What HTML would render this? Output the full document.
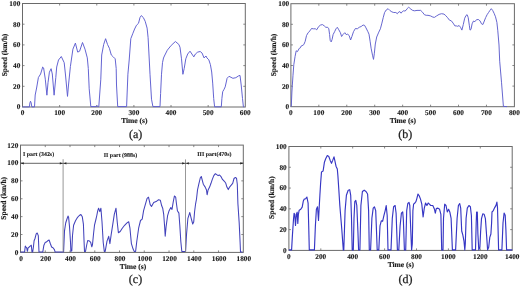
<!DOCTYPE html>
<html><head><meta charset="utf-8"><style>
html,body{margin:0;padding:0;background:#fff;}
svg{display:block;text-rendering:geometricPrecision;}
.tl{font-family:"Liberation Serif",serif;font-weight:bold;font-size:7.3px;fill:#1a1a1a;stroke:#1a1a1a;stroke-width:0.12px;}
.al{font-family:"Liberation Serif",serif;font-weight:bold;font-size:7.5px;fill:#1a1a1a;stroke:#1a1a1a;stroke-width:0.15px;}
.cap{font-family:"Liberation Serif",serif;font-size:12px;fill:#222;stroke:#222;stroke-width:0.25px;}
.an{font-family:"Liberation Serif",serif;font-weight:bold;font-size:5.9px;fill:#1a1a1a;stroke:#1a1a1a;stroke-width:0.1px;}
</style></head><body>
<svg width="520" height="286" viewBox="0 0 520 286">
<rect x="22.5" y="3.5" width="222.8" height="103.5" fill="none" stroke="#6a6a6a" stroke-width="1"/>
<text x="22.5" y="115.2" class="tl" text-anchor="middle">0</text>
<path d="M59.63 107v-2.0M59.63 3.5v2.0" stroke="#6a6a6a" stroke-width="0.8"/>
<text x="59.63" y="115.2" class="tl" text-anchor="middle">100</text>
<path d="M96.77 107v-2.0M96.77 3.5v2.0" stroke="#6a6a6a" stroke-width="0.8"/>
<text x="96.77" y="115.2" class="tl" text-anchor="middle">200</text>
<path d="M133.9 107v-2.0M133.9 3.5v2.0" stroke="#6a6a6a" stroke-width="0.8"/>
<text x="133.9" y="115.2" class="tl" text-anchor="middle">300</text>
<path d="M171.03 107v-2.0M171.03 3.5v2.0" stroke="#6a6a6a" stroke-width="0.8"/>
<text x="171.03" y="115.2" class="tl" text-anchor="middle">400</text>
<path d="M208.17 107v-2.0M208.17 3.5v2.0" stroke="#6a6a6a" stroke-width="0.8"/>
<text x="208.17" y="115.2" class="tl" text-anchor="middle">500</text>
<text x="245.3" y="115.2" class="tl" text-anchor="middle">600</text>
<text x="20.3" y="109.4" class="tl" text-anchor="end">0</text>
<path d="M22.5 86.3h2.0M245.3 86.3h-2.0" stroke="#6a6a6a" stroke-width="0.8"/>
<text x="20.3" y="88.7" class="tl" text-anchor="end">20</text>
<path d="M22.5 65.6h2.0M245.3 65.6h-2.0" stroke="#6a6a6a" stroke-width="0.8"/>
<text x="20.3" y="68" class="tl" text-anchor="end">40</text>
<path d="M22.5 44.9h2.0M245.3 44.9h-2.0" stroke="#6a6a6a" stroke-width="0.8"/>
<text x="20.3" y="47.3" class="tl" text-anchor="end">60</text>
<path d="M22.5 24.2h2.0M245.3 24.2h-2.0" stroke="#6a6a6a" stroke-width="0.8"/>
<text x="20.3" y="26.6" class="tl" text-anchor="end">80</text>
<text x="20.3" y="5.9" class="tl" text-anchor="end">100</text>
<rect x="290.9" y="3.7" width="223.5" height="103" fill="none" stroke="#6a6a6a" stroke-width="1"/>
<text x="290.9" y="115.3" class="tl" text-anchor="middle">0</text>
<path d="M318.84 106.7v-2.0M318.84 3.7v2.0" stroke="#6a6a6a" stroke-width="0.8"/>
<text x="318.84" y="115.3" class="tl" text-anchor="middle">100</text>
<path d="M346.77 106.7v-2.0M346.77 3.7v2.0" stroke="#6a6a6a" stroke-width="0.8"/>
<text x="346.77" y="115.3" class="tl" text-anchor="middle">200</text>
<path d="M374.71 106.7v-2.0M374.71 3.7v2.0" stroke="#6a6a6a" stroke-width="0.8"/>
<text x="374.71" y="115.3" class="tl" text-anchor="middle">300</text>
<path d="M402.65 106.7v-2.0M402.65 3.7v2.0" stroke="#6a6a6a" stroke-width="0.8"/>
<text x="402.65" y="115.3" class="tl" text-anchor="middle">400</text>
<path d="M430.59 106.7v-2.0M430.59 3.7v2.0" stroke="#6a6a6a" stroke-width="0.8"/>
<text x="430.59" y="115.3" class="tl" text-anchor="middle">500</text>
<path d="M458.52 106.7v-2.0M458.52 3.7v2.0" stroke="#6a6a6a" stroke-width="0.8"/>
<text x="458.52" y="115.3" class="tl" text-anchor="middle">600</text>
<path d="M486.46 106.7v-2.0M486.46 3.7v2.0" stroke="#6a6a6a" stroke-width="0.8"/>
<text x="486.46" y="115.3" class="tl" text-anchor="middle">700</text>
<text x="514.4" y="115.3" class="tl" text-anchor="middle">800</text>
<text x="289.2" y="109.1" class="tl" text-anchor="end">0</text>
<path d="M290.9 86.1h2.0M514.4 86.1h-2.0" stroke="#6a6a6a" stroke-width="0.8"/>
<text x="289.2" y="88.5" class="tl" text-anchor="end">20</text>
<path d="M290.9 65.5h2.0M514.4 65.5h-2.0" stroke="#6a6a6a" stroke-width="0.8"/>
<text x="289.2" y="67.9" class="tl" text-anchor="end">40</text>
<path d="M290.9 44.9h2.0M514.4 44.9h-2.0" stroke="#6a6a6a" stroke-width="0.8"/>
<text x="289.2" y="47.3" class="tl" text-anchor="end">60</text>
<path d="M290.9 24.3h2.0M514.4 24.3h-2.0" stroke="#6a6a6a" stroke-width="0.8"/>
<text x="289.2" y="26.7" class="tl" text-anchor="end">80</text>
<text x="289.2" y="6.1" class="tl" text-anchor="end">100</text>
<rect x="20.5" y="145.1" width="222.8" height="107.3" fill="none" stroke="#6a6a6a" stroke-width="1"/>
<text x="21" y="260.6" class="tl" text-anchor="middle">0</text>
<path d="M45.26 252.4v-2.0M45.26 145.1v2.0" stroke="#6a6a6a" stroke-width="0.8"/>
<text x="45.76" y="260.6" class="tl" text-anchor="middle">200</text>
<path d="M70.01 252.4v-2.0M70.01 145.1v2.0" stroke="#6a6a6a" stroke-width="0.8"/>
<text x="70.51" y="260.6" class="tl" text-anchor="middle">400</text>
<path d="M94.77 252.4v-2.0M94.77 145.1v2.0" stroke="#6a6a6a" stroke-width="0.8"/>
<text x="95.27" y="260.6" class="tl" text-anchor="middle">600</text>
<path d="M119.52 252.4v-2.0M119.52 145.1v2.0" stroke="#6a6a6a" stroke-width="0.8"/>
<text x="120.02" y="260.6" class="tl" text-anchor="middle">800</text>
<path d="M144.28 252.4v-2.0M144.28 145.1v2.0" stroke="#6a6a6a" stroke-width="0.8"/>
<text x="144.78" y="260.6" class="tl" text-anchor="middle">1000</text>
<path d="M169.03 252.4v-2.0M169.03 145.1v2.0" stroke="#6a6a6a" stroke-width="0.8"/>
<text x="169.53" y="260.6" class="tl" text-anchor="middle">1200</text>
<path d="M193.79 252.4v-2.0M193.79 145.1v2.0" stroke="#6a6a6a" stroke-width="0.8"/>
<text x="194.29" y="260.6" class="tl" text-anchor="middle">1400</text>
<path d="M218.54 252.4v-2.0M218.54 145.1v2.0" stroke="#6a6a6a" stroke-width="0.8"/>
<text x="219.04" y="260.6" class="tl" text-anchor="middle">1600</text>
<text x="243.8" y="260.6" class="tl" text-anchor="middle">1800</text>
<text x="18.3" y="254.8" class="tl" text-anchor="end">0</text>
<path d="M20.5 234.52h2.0M243.3 234.52h-2.0" stroke="#6a6a6a" stroke-width="0.8"/>
<text x="18.3" y="236.92" class="tl" text-anchor="end">20</text>
<path d="M20.5 216.63h2.0M243.3 216.63h-2.0" stroke="#6a6a6a" stroke-width="0.8"/>
<text x="18.3" y="219.03" class="tl" text-anchor="end">40</text>
<path d="M20.5 198.75h2.0M243.3 198.75h-2.0" stroke="#6a6a6a" stroke-width="0.8"/>
<text x="18.3" y="201.15" class="tl" text-anchor="end">60</text>
<path d="M20.5 180.87h2.0M243.3 180.87h-2.0" stroke="#6a6a6a" stroke-width="0.8"/>
<text x="18.3" y="183.27" class="tl" text-anchor="end">80</text>
<path d="M20.5 162.98h2.0M243.3 162.98h-2.0" stroke="#6a6a6a" stroke-width="0.8"/>
<text x="18.3" y="165.38" class="tl" text-anchor="end">100</text>
<text x="18.3" y="147.5" class="tl" text-anchor="end">120</text>
<rect x="288.9" y="146.5" width="223.3" height="103.9" fill="none" stroke="#6a6a6a" stroke-width="1"/>
<text x="288.9" y="258.5" class="tl" text-anchor="middle">0</text>
<path d="M320.8 250.4v-2.0M320.8 146.5v2.0" stroke="#6a6a6a" stroke-width="0.8"/>
<text x="320.8" y="258.5" class="tl" text-anchor="middle">200</text>
<path d="M352.7 250.4v-2.0M352.7 146.5v2.0" stroke="#6a6a6a" stroke-width="0.8"/>
<text x="352.7" y="258.5" class="tl" text-anchor="middle">400</text>
<path d="M384.6 250.4v-2.0M384.6 146.5v2.0" stroke="#6a6a6a" stroke-width="0.8"/>
<text x="384.6" y="258.5" class="tl" text-anchor="middle">600</text>
<path d="M416.5 250.4v-2.0M416.5 146.5v2.0" stroke="#6a6a6a" stroke-width="0.8"/>
<text x="416.5" y="258.5" class="tl" text-anchor="middle">800</text>
<path d="M448.4 250.4v-2.0M448.4 146.5v2.0" stroke="#6a6a6a" stroke-width="0.8"/>
<text x="448.4" y="258.5" class="tl" text-anchor="middle">1000</text>
<path d="M480.3 250.4v-2.0M480.3 146.5v2.0" stroke="#6a6a6a" stroke-width="0.8"/>
<text x="480.3" y="258.5" class="tl" text-anchor="middle">1200</text>
<text x="512.2" y="258.5" class="tl" text-anchor="middle">1400</text>
<text x="286.7" y="252.8" class="tl" text-anchor="end">0</text>
<path d="M288.9 229.62h2.0M512.2 229.62h-2.0" stroke="#6a6a6a" stroke-width="0.8"/>
<text x="286.7" y="232.02" class="tl" text-anchor="end">20</text>
<path d="M288.9 208.84h2.0M512.2 208.84h-2.0" stroke="#6a6a6a" stroke-width="0.8"/>
<text x="286.7" y="211.24" class="tl" text-anchor="end">40</text>
<path d="M288.9 188.06h2.0M512.2 188.06h-2.0" stroke="#6a6a6a" stroke-width="0.8"/>
<text x="286.7" y="190.46" class="tl" text-anchor="end">60</text>
<path d="M288.9 167.28h2.0M512.2 167.28h-2.0" stroke="#6a6a6a" stroke-width="0.8"/>
<text x="286.7" y="169.68" class="tl" text-anchor="end">80</text>
<text x="286.7" y="148.9" class="tl" text-anchor="end">100</text>
<text x="134.3" y="122.6" class="al" text-anchor="middle">Time (s)</text>
<text transform="translate(7.4 55) rotate(-90)" class="al" text-anchor="middle">Speed (km/h)</text>
<text x="135.6" y="137.5" class="cap" text-anchor="middle">(a)</text>
<text x="402.8" y="122.6" class="al" text-anchor="middle">Time (s)</text>
<text transform="translate(276.4 55) rotate(-90)" class="al" text-anchor="middle">Speed (km/h)</text>
<text x="405.2" y="137.7" class="cap" text-anchor="middle">(b)</text>
<text x="133" y="268.5" class="al" text-anchor="middle">Time (s)</text>
<text transform="translate(5.9 198.3) rotate(-90)" class="al" text-anchor="middle">Speed (km/h)</text>
<text x="135.5" y="283.4" class="cap" text-anchor="middle">(c)</text>
<text x="400.8" y="267.3" class="al" text-anchor="middle">Time (s)</text>
<text transform="translate(274.1 197.6) rotate(-90)" class="al" text-anchor="middle">Speed (km/h)</text>
<text x="405.4" y="282.6" class="cap" text-anchor="middle">(d)</text>
<path d="M22.5 106.9 29.4 106.9 29.9 103 30.5 101.2 31.2 103 31.8 106.9 34.5 106.9 35.2 95 36.6 88 38.4 77.5 40.6 74 42.7 67 43.6 67.9 45.3 79.2 46.9 95.2 48 82.7 49.4 72.2 51.1 68.7 52.3 74 54.1 95.2 55.8 77.5 56.7 67 58.5 60 61.3 56.5 64.2 62.7 65.5 75 67.5 96.4 68.5 85 70.4 66.5 72.9 49.2 75.4 43.1 77.7 52.1 79.6 51.2 82.5 42.5 85 49.2 87.3 57.9 88.3 68.5 89.2 88.8 90.8 106.6 96.2 106.6 96.9 105.6 97.6 106.6 98.8 106.6 100.8 79.2 101.7 55 103.7 44.4 105.6 38.7 107.5 44.4 109.4 48.3 111.3 55 113.3 56.9 115.2 58.8 116.2 68.5 116.5 85 117.7 106.6 126.6 106.6 127.9 74.2 129.2 60 130.8 38.7 132.7 33.8 134.6 29 136.5 25.2 138.5 23.3 140 17.5 141.3 15.6 143.3 17.5 145.2 21.3 147.1 28.1 148.1 37.7 149 55 150 74.2 151.5 99.2 152.9 106.6 160 106.6 160.6 93.5 161.5 74.2 162.5 62.7 163.5 58 164.4 56 167.3 50.2 171.2 45.4 175.4 41.5 178.8 44.4 180 47.3 181.5 58.8 182.9 74.3 184.2 68.5 185.8 58.8 187.7 54 190 51.2 191.9 54 193.8 56.9 195.4 54 197.7 52.1 200.2 51.5 202.1 53.1 204 57.9 206 56 206.9 57.9 208.8 59.8 210.4 64.6 211.7 72 212.7 83.1 213.7 98.5 214.6 106.8 221.3 106.8 221.9 98.5 222.7 91.7 223.8 89.8 225.2 86.9 227.1 78.3 229 76.3 231 77.3 232.9 78.3 235.8 77.7 238.7 75.8 240 75.4 241.2 85 242.5 98.5 243.4 106.8 244.3 106.9" fill="none" stroke="#5c5cd0" stroke-width="0.95" stroke-linejoin="round"/>
<path d="M290.6 106.4 291.3 106.2 291.9 92 292.3 85.6 293 75.2 293.8 64.7 295.1 56.3 296.2 50.8 297.5 51.6 299.2 48.4 300.4 47.8 301.1 46.1 303 45.2 303.8 44.6 305.2 41.3 306.5 35.6 308.1 32.7 310 30.8 311.5 28.5 313.5 28.8 315.4 28.8 316.7 29.8 318.7 26.5 320.6 25 322.5 24.6 324.4 26 325.8 27.3 327.7 27.3 328.8 28.8 329.6 34.6 330.2 40.4 331.2 41.9 332.1 39.4 333.1 34.6 334.6 31.7 336 28.8 337.3 27.3 338.8 29.8 340.4 32.7 341.6 36.5 342.9 34.6 344.8 32.7 346.2 34.6 347.7 34.2 349.2 35.6 350.6 40 351.9 36.5 353.5 31.7 355.4 28.5 357.3 28.8 359.2 27.3 361.2 26.5 363.1 25 364.6 25.4 366 27.9 367.9 31.7 369 34.2 370.1 41.2 371.1 48.2 372.5 55.2 373.5 59.4 374.3 53.8 375.3 44 376.7 37 378.8 32.1 380.4 28.8 381.9 23.1 383.3 17.3 384.6 12.5 386.2 10 388.1 8.7 390 10.6 391.9 11.9 393.8 12.5 395.8 12.5 397.4 13.7 398.7 12 399.9 11.6 401.1 13.2 402.3 11.6 403.6 10.8 404.8 11 406 10.4 407.2 8.6 408.5 7.3 409.7 8 410.9 9.2 412.7 10.4 414.6 10.8 417 10.4 420.7 10.4 422.5 12.2 424.4 14.7 426.2 15.3 428 15.3 430.5 15.9 432.9 17.1 434.4 17.4 436.6 15.9 439.1 14.4 441.5 13.7 444 14.1 445.8 15.7 447.6 17.7 449.5 20.2 451.3 20.8 453.1 23.1 454.9 25.9 456.3 25.9 457.7 26.3 459.1 25.5 460.5 27.3 461.9 30.1 463.3 24.5 464.7 18.2 466.1 15.4 467.1 14.7 468.2 17.5 469.3 25.2 470 30.1 471 29.4 472.1 23.8 473.5 21 474.9 21.7 476.6 19.6 478.7 19.6 480.1 21 481.5 23.8 482.9 24.5 484.3 21 485.7 17.5 487.1 14.7 488.5 12.6 489.9 10.5 491.3 8.7 492.7 10.5 494.1 13.3 495.5 16.8 496.9 22.4 497.8 30.8 499 45 499.7 61.2 501.5 82.2 503.4 106.4 507 106.6" fill="none" stroke="#5e5ecc" stroke-width="0.95" stroke-linejoin="round"/>
<path d="M20.5 251.9 24.6 251.9 25.3 246.1 26 247 26.7 247.8 27.4 251.3 28.1 247.8 29.2 247 30.2 246.1 31.3 245.2 32 251.9 32.7 251.9 33.4 247 34.1 240.8 35.1 238.2 36.2 233.8 37.2 233 38.3 235.6 39 251.9 42.8 251.9 43.9 245.2 45.1 242.6 46.3 242.1 47.7 240.8 49.1 240 50.3 243.5 51.6 247 53 247.8 54.4 249.6 55.1 251.9 63.6 251.9 64.5 230.9 65.7 223 66.8 219.5 68 216.1 68.6 217.3 69.5 226.4 70.5 242.3 70.9 251.4 71.8 250.9 72.5 235.5 73.6 225.2 75.5 220.7 77.3 217.7 79.3 215.5 80.9 214.5 82.3 216.8 83.4 224.1 84.1 242.3 84.5 251.4 85.5 251.4 86.8 244.5 87.7 240.5 89.5 241.1 90.7 242.3 91.8 246.8 92.5 244.5 93.6 233.2 94.5 225.2 95.9 219.5 96.8 215.5 97.7 210.9 98.6 208.2 99.8 211.6 100.9 208.2 102 221.8 103.2 242.3 104.3 251.4 105.2 251.4 107 241.2 108.7 236.3 109.9 243.7 111.1 235.1 112.8 224.1 114.3 214.3 116 208.2 117.2 221.7 118.4 232.7 120.2 231.5 122.1 228.5 124.6 225.3 127 222.9 128.7 221.7 129.9 227.8 131.4 243.7 133.1 249.1 134.3 251.4 135.6 251.4 136.8 241.2 138.7 227.8 140.5 220.5 142.2 219.2 143.6 210.7 145.3 204.6 147.1 198.4 148.5 197.2 150.2 204.6 151.5 206.5 153.7 202.6 156.1 201.6 158.6 199.7 160.3 200.2 161.7 205.8 162.7 208.2 163.7 214.3 164.7 227.8 165.2 236.3 166.1 226.6 167.6 215.6 169.1 210.7 170.8 207.5 172 209.4 173.2 202.1 174.4 196 175.7 197.2 176.4 203.3 177.4 210.7 178.9 213.1 179.8 225.3 180.8 241.2 181.8 251.4 185.6 251.4 186.5 234.6 187.9 218.3 189.8 212.5 191.2 218.3 192.7 224 193.7 222.1 194.6 211.5 195.6 203.8 196.5 199 197.5 190 198.8 184.2 200.4 177.5 201.3 176.5 202.3 180.4 203.3 184.2 205.2 187.1 206.5 190 207.1 194.8 208.1 190 209.6 187.1 211 183.3 212.3 179.4 213.8 175.6 215.4 173.7 216.7 174.6 218.1 175.6 219.6 175 221.2 176.9 222.5 179.4 224.4 181.3 225.8 183.3 226.9 187.1 228.3 189.6 229.6 187.1 231.2 185.2 232.7 183.3 234 178.5 235.4 177.5 236.5 178.1 237.3 184.2 237.9 203.5 239.2 223.1 240.1 242.3 240.5 251.9 242.5 252.1" fill="none" stroke="#4242bb" stroke-width="1.05" stroke-linejoin="round"/>
<path d="M288.9 249.9 291.6 249.9 292.4 235.6 293.5 219.3 294.1 213.3 294.7 214.3 295.5 225.4 296.4 214.3 297.2 212.2 297.8 223.4 298.4 214.3 299.2 210.2 300.8 209.2 302.2 207.2 303.3 201.1 304.3 199.1 305.7 198.7 306.9 197 308.1 203.1 308.7 225.4 309.3 249.9 314.4 249.9 315.4 225.4 316.4 209.2 317.5 206.8 318.5 220.4 319.1 209.2 319.9 195 320.6 183.5 321.5 171.9 323.1 171 324.4 162.3 325.8 158.5 327.3 155.6 328.8 156.5 330.2 160.4 331.5 163.3 332.7 160.4 334 156.9 335 161.3 336 166.2 337.3 169 337.9 175.8 338.8 189.2 339.8 205.1 341.8 229.5 343.3 249.9 343.8 249.9 345.1 210.6 346.4 195.3 348.2 190.2 349.7 189.7 350.7 195.3 351.5 218.3 352.2 249.9 353.3 249.9 354 218.3 354.8 201.7 355.8 200.4 356.8 205.5 357.9 231 358.6 249.9 359.9 249.9 360.9 205.5 362.4 191.5 364.2 190.2 366 191.5 367.6 194 368.6 210.6 369.3 249.9 370.6 249.9 371.9 218.3 373.2 208.1 374.4 206.8 375.7 210.6 376.5 231 377.2 249.9 378.8 249.9 380 225.9 381.3 220.8 382.6 221.3 383.9 215.7 385.2 210.6 386.2 205.5 387.2 215.7 388 249.9 391 249.9 392.3 218.3 393.6 206.8 395.1 205.5 396.1 213.2 397.4 249.9 398.8 249.9 400.1 225.9 401.4 213.2 402.7 211.9 403.4 220.8 404.4 249.9 405.7 249.9 406.7 210.6 407.8 203.5 409 202.4 409.8 205.5 410.8 231 411.6 249.9 412.3 243.8 412.9 210.6 413.6 204.2 414.9 203 415.9 201.7 416.7 199.1 418 194 419.2 195.8 420.5 199.1 421.8 204.2 423.1 217 424.3 208.1 425.6 203 426.9 205.5 428.2 203 429.4 204.2 430.7 205.5 432.8 205.5 434.5 209.3 435.3 213.2 436.3 208.6 437.9 208.1 439.6 209.3 440.9 214.4 441.7 249.9 443 249.9 443.5 218.3 444.7 204.2 446 205.5 447.3 211.9 448.6 209.3 449.8 211.9 451.1 218.3 452.4 249.9 455.6 249.9 457.1 218.3 458.4 205.5 459.7 203.5 460.7 208.1 461.7 231 462.8 234.8 464 241.2 464.8 249.9 465.3 243.8 466.1 218.3 467.3 208.1 468.9 205.5 470.4 206.8 471.4 215.7 472.2 249.9 475.5 249.9 476.2 223 476.6 212 477.3 212 477.9 234 478.8 249.9 479.9 247.3 480.6 231.9 481.5 218.6 482.8 213.8 484.1 214.2 485.4 218.6 486.5 234 487.6 249.9 488.7 247.3 489.8 237.4 490.9 234 491.6 223 492 212 493.1 210.9 494.7 207.6 496 205.4 496.9 202.1 497.5 207.6 498.2 234 498.6 249.9 501.9 249.9 503 223 504.1 213.1 505.2 215.3 505.9 229.6 506.6 249.9 512.2 249.9" fill="none" stroke="#3636c4" stroke-width="1.15" stroke-linejoin="round"/>
<g stroke="#6a6a6a" stroke-width="0.9" fill="none">
<path d="M63.1 159.2V252.4M185.5 159.4V252.4" stroke="#858585" stroke-width="0.85"/>
<path d="M20.5 163.3H243.3" stroke="#555"/>
</g>
<g fill="#222">
<path d="M21 163.3l2.8 -1.15v2.3z"/>
<path d="M62.6 163.3l-2.8 -1.15v2.3z"/>
<path d="M63.6 163.3l2.8 -1.15v2.3z"/>
<path d="M185 163.3l-2.8 -1.15v2.3z"/>
<path d="M186 163.3l2.8 -1.15v2.3z"/>
<path d="M243 163.3l-2.8 -1.15v2.3z"/>
</g>
<text x="23" y="156" class="an">I part (342s)</text>
<text x="103.8" y="156.5" class="an">II part (988s)</text>
<text x="197.3" y="156" class="an">III part(470s)</text>

</svg>
</body></html>
